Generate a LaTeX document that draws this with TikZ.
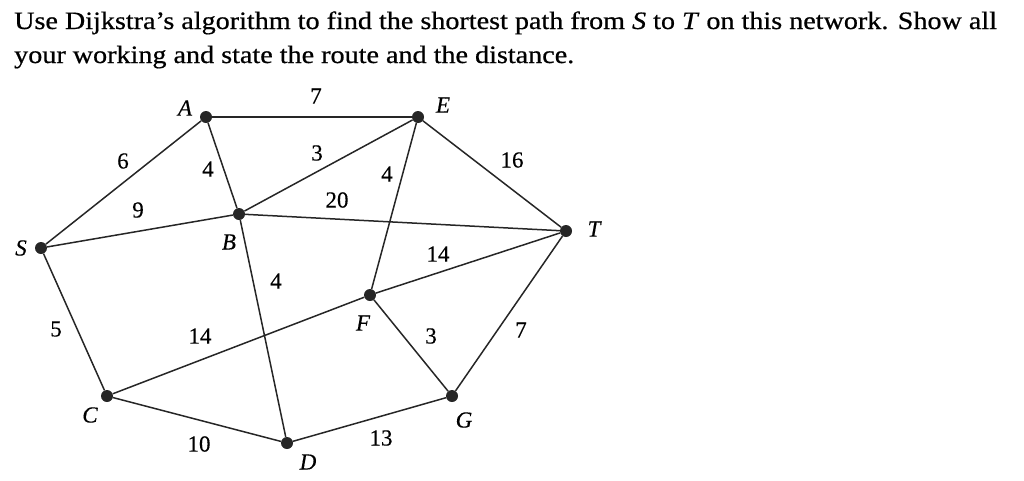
\documentclass[tikz,border=0pt]{standalone}
\usepackage{fontspec}
\setmainfont{Liberation Serif}
\begin{document}
\begin{tikzpicture}[x=1pt,y=-1pt,
  vertex/.style={circle,fill=black!85,inner sep=0pt,minimum size=12pt},
  edge/.style={line width=1.5pt,black!85},
  wlab/.style={font=\fontsize{23}{23}\selectfont\addfontfeature{FakeBold=0.3},inner sep=0pt},
  vlab/.style={font=\fontsize{23}{23}\selectfont\itshape\addfontfeature{FakeBold=0.3},inner sep=0pt},
  title/.style={font=\fontsize{25}{25}\selectfont\addfontfeature{FakeBold=0.6},inner sep=0pt,anchor=base west}]
\useasboundingbox (0,0) rectangle (1024,480);
\node[title] (t1) at (14,29) {\scalebox{1.125}[1]{Use Dijkstra's algorithm to find the shortest path from \textit{S} to \textit{T} on this network. Show all}};
\node[title] (t2) at (14,63) {\scalebox{1.125}[1]{your working and state the route and the distance.}};
% vertices
\node[vertex] (S) at (41,248) {};
\node[vertex] (A) at (206,117) {};
\node[vertex] (E) at (418,117) {};
\node[vertex] (B) at (239,214) {};
\node[vertex] (T) at (566,231) {};
\node[vertex] (F) at (370,295) {};
\node[vertex] (C) at (107,396) {};
\node[vertex] (D) at (287,443) {};
\node[vertex] (G) at (452,396) {};
% edges
\draw[edge] (S) -- (A);
\draw[edge] (S) -- (B);
\draw[edge] (S) -- (C);
\draw[edge] (A) -- (E);
\draw[edge] (A) -- (B);
\draw[edge] (B) -- (E);
\draw[edge] (B) -- (T);
\draw[edge] (B) -- (D);
\draw[edge] (E) -- (F);
\draw[edge] (E) -- (T);
\draw[edge] (F) -- (T);
\draw[edge] (C) -- (F);
\draw[edge] (C) -- (D);
\draw[edge] (D) -- (G);
\draw[edge] (F) -- (G);
\draw[edge] (G) -- (T);
% vertex labels
\node[vlab] (lS) at (21,248) {S};
\node[vlab] (lA) at (185,108) {A};
\node[vlab] (lE) at (443,105) {E};
\node[vlab] (lB) at (229,242) {B};
\node[vlab] (lT) at (594,229) {T};
\node[vlab] (lF) at (363,323) {F};
\node[vlab] (lC) at (90,415) {C};
\node[vlab] (lD) at (308,462) {D};
\node[vlab] (lG) at (464,420) {G};
% weights
\node[wlab] (wAE) at (316,96) {7};
\node[wlab] (wSA) at (123,161) {6};
\node[wlab] (wSB) at (138,210) {9};
\node[wlab] (wAB) at (208,169) {4};
\node[wlab] (wBE) at (317,153) {3};
\node[wlab] (wEF) at (387,174) {4};
\node[wlab] (wET) at (512,160) {16};
\node[wlab] (wBT) at (337,200) {20};
\node[wlab] (wFT) at (438,254) {14};
\node[wlab] (wBD) at (276,281) {4};
\node[wlab] (wSC) at (56,329) {5};
\node[wlab] (wCF) at (200,336) {14};
\node[wlab] (wFG) at (431,336) {3};
\node[wlab] (wGT) at (521,330) {7};
\node[wlab] (wCD) at (199,444) {10};
\node[wlab] (wDG) at (381,438) {13};
\end{tikzpicture}
\end{document}
